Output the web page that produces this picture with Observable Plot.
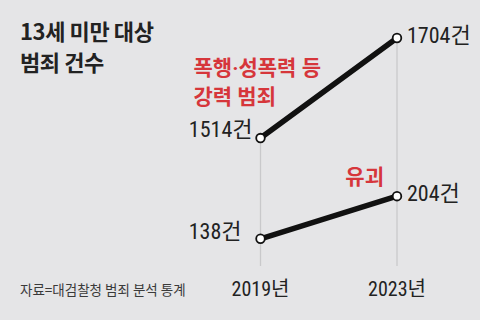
<!DOCTYPE html>
<html>
<head>
<meta charset="utf-8">
<script src="https://cdn.jsdelivr.net/npm/d3@7"></script>
<script src="https://cdn.jsdelivr.net/npm/@observablehq/plot@0.6"></script>
<style>
  html, body { margin: 0; padding: 0; background: #e5e5e7; }
  #wrap { position: relative; width: 480px; height: 320px; overflow: hidden; background: #e5e5e7; }
  .title { position: absolute; left: 20px; top: 15px; font-family: "Noto Sans CJK KR", sans-serif; font-weight: 700; font-size: 22px; line-height: 31px; color: #222; letter-spacing: -0.4px; }
  .source { position: absolute; left: 20px; top: 279px; font-family: "Noto Sans CJK KR", sans-serif; font-size: 13.5px; color: #3a3a3a; letter-spacing: 0px; }
  #chart { position: absolute; left: 0; top: 0; }
</style>
</head>
<body>
<div id="wrap">
  <div id="chart"></div>
  <div class="title">13세 미만 대상<br>범죄 건수</div>
  <div class="source">자료=대검찰청 범죄 분석 통계</div>
</div>
<script>
const years = [2019, 2023];
const yearLabels = ["2019년", "2023년"];
const violentValues = [1514, 1704];
const kidnapValues = [138, 204];
const violentLabel = "폭행·성폭력 등\n강력 범죄";
const kidnapLabel = "유괴";
const unit = "건";

const violent = years.map((y, i) => ({year: y, value: violentValues[i], series: "violent"}));
const kidnap = years.map((y, i) => ({year: y, value: kidnapValues[i], series: "kidnap"}));
const all = violent.concat(kidnap);
const ticks = years.map((y, i) => ({year: y, label: yearLabels[i]}));

const RED = "#d6363b";
const numFont = "'Roboto Condensed', 'Noto Sans CJK KR', sans-serif";
const redFont = "Roboto, 'Noto Sans CJK KR', sans-serif";
const krFont = "'Noto Sans CJK KR', sans-serif";
const yBase = 95;

const chart = Plot.plot({
  width: 480,
  height: 320,
  margin: 0,
  style: {background: "transparent", overflow: "visible"},
  x: {type: "linear", domain: [2019, 2023], range: [260, 396.5], axis: null},
  y: {type: "linear", domain: [yBase, 250, 1500, 1750], range: [266, 166, 144.9, 13.3], axis: null},
  marks: [
    Plot.ruleX(violent, {x: "year", y1: yBase, y2: "value", stroke: "#c9c9cb", strokeWidth: 1.3}),
    Plot.line(violent, {x: "year", y: "value", stroke: "#111", strokeWidth: 5.5}),
    Plot.line(kidnap, {x: "year", y: "value", stroke: "#111", strokeWidth: 5.5}),
    Plot.dot(all, {x: "year", y: "value", r: 4.3, fill: "#fff", stroke: "#111", strokeWidth: 1.8}),
    // value labels
    Plot.text(violent.slice(0, 1), {x: "year", y: "value", text: d => d.value + unit, textAnchor: "end", dx: -8, dy: -8, fontSize: 22, fill: "#222", fontFamily: numFont}),
    Plot.text(kidnap.slice(0, 1), {x: "year", y: "value", text: d => d.value + unit, textAnchor: "end", dx: -19, dy: -7, fontSize: 22, fill: "#222", fontFamily: numFont}),
    Plot.text(all.filter(d => d.year === 2023), {x: "year", y: "value", text: d => d.value + unit, textAnchor: "start", dx: 10, dy: -2, fontSize: 22, fill: "#222", fontFamily: numFont}),
    // series labels
    Plot.text(violent.slice(0, 1), {x: "year", y: "value", text: () => violentLabel, textAnchor: "start", lineAnchor: "middle", lineHeight: 1.4, dx: -67, dy: -58, fontSize: 21, fontWeight: 700, fill: RED, fontFamily: redFont}),
    Plot.text(kidnap.slice(1, 2), {x: "year", y: "value", text: () => kidnapLabel, textAnchor: "end", dx: -13, dy: -19, fontSize: 21, fontWeight: 700, fill: RED, fontFamily: krFont}),
    // x labels
    Plot.text(ticks, {x: "year", y: yBase, text: "label", dy: 23, fontSize: 20, fill: "#222", fontFamily: numFont})
  ]
});
document.getElementById("chart").appendChild(chart);
</script>
</body>
</html>
